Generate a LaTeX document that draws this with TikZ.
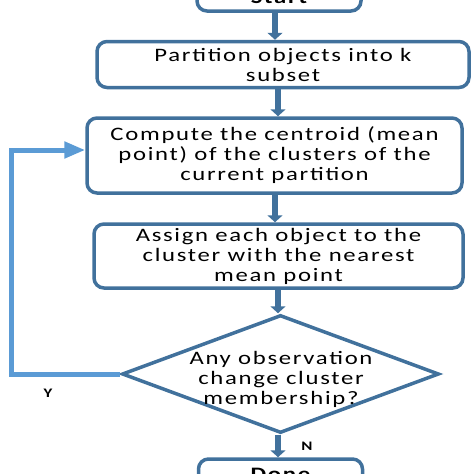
\documentclass[tikz,border=0pt]{standalone}
\usepackage{fontspec}
\setmainfont{Carlito}[FakeStretch=1.3,LetterSpace=9]
\usetikzlibrary{arrows.meta,shapes.geometric}
\definecolor{boxblue}{HTML}{41719C}
\definecolor{loopblue}{HTML}{5B9BD5}
\begin{document}
\begin{tikzpicture}[x=1pt,y=-1pt,
  stepbox/.style={draw=boxblue,line width=3.5pt,rounded corners=10pt,fill=white,
    inner sep=0pt,align=center,font=\fontsize{19}{20}\selectfont},
  flow/.style={draw=boxblue,line width=5.5pt,-{Triangle[width=15pt,length=7pt]}},
  loop/.style={draw=loopblue,line width=5pt,-{Triangle[width=16pt,length=21pt]}},
  lab/.style={font=\fontsize{13}{14}\selectfont\bfseries,inner sep=0pt}]
\useasboundingbox (0,0) rectangle (474,474);
\clip (0,0) rectangle (474,474);
\node[stepbox,minimum width=164pt,minimum height=48pt] (start) at (279,-13) {};
\node[font=\fontsize{19}{20}\selectfont\bfseries,anchor=base,inner sep=0pt] (starttxt) at (279,3) {Start};
\node[stepbox,minimum width=372pt,minimum height=46pt] (part) at (283,64.5) {Partition objects into k\\subset};
\node[stepbox,minimum width=375pt,minimum height=75pt] (comp) at (274.5,155.5) {Compute the centroid (mean\\point) of the clusters of the\\current partition};
\node[stepbox,minimum width=369pt,minimum height=64pt] (assign) at (278.5,256) {Assign each object to the\\cluster with the nearest\\mean point};
\node[draw=boxblue,line width=3.5pt,diamond,minimum width=317pt,minimum height=118pt,inner sep=0pt] (dec) at (280.5,374) {};
\node[align=center,inner sep=0pt,font=\fontsize{19}{20}\selectfont] (dectxt) at (281,379) {Any observation\\change cluster\\membership?};
\node[stepbox,minimum width=164pt,minimum height=48pt] (done) at (280.5,483) {};
\node[font=\fontsize{19}{20}\selectfont\bfseries,anchor=base,inner sep=0pt] (donetxt) at (280.5,480) {Done};
\coordinate (c1) at (275,0);
\coordinate (c2) at (278,0);
\draw[flow] (start.south -| c1) -- (part.north -| c1);
\draw[flow] (part.south -| c2) -- (comp.north -| c2);
\draw[flow] (comp.south -| c1) -- (assign.north -| c1);
\draw[flow] (assign.south -| c2) -- (dec.north -| c2);
\draw[flow] (dec.south -| c2) -- (done.north -| c2);
\coordinate (lx) at (11,0);
\coordinate (ly) at (0,150);
\draw[loop] (dec.west) -- (dec.west -| lx) -- (lx |- ly) -- (ly -| comp.west);
\node[lab] (ylab) at (48,393) {Y};
\node[lab] (nlab) at (307,446) {N};
\end{tikzpicture}
\end{document}
